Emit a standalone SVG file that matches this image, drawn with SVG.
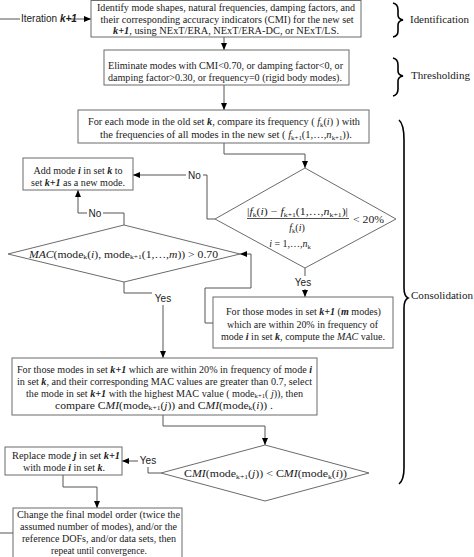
<svg xmlns="http://www.w3.org/2000/svg" width="474" height="557" viewBox="0 0 474 557">
<defs>
<marker id="ah" markerUnits="userSpaceOnUse" markerWidth="8" markerHeight="7" refX="7" refY="3" orient="auto">
<path d="M0,0 L7,3 L0,6 z" fill="#000"/>
</marker>
<style>
.box{fill:#fff;stroke:#6b6b6b;stroke-width:1}
.t{font-family:"Liberation Serif","Times New Roman",serif;font-size:10px;fill:#1a1a1a}
.s{font-family:"Liberation Sans",Arial,sans-serif;font-size:10px;fill:#1a1a1a}
.c{fill:none;stroke:#555;stroke-width:1}
.a{marker-end:url(#ah)}
.br{fill:none;stroke:#000;stroke-width:1.6}
.bi{font-weight:bold;font-style:italic}
.i{font-style:italic}
.sub{font-size:6.5px}
</style>
</defs>
<rect width="474" height="557" fill="#fff"/>

<g id="connectors">
<line class="c" x1="0" y1="19" x2="20" y2="19"/>
<line class="c a" x1="70" y1="19" x2="91" y2="19"/>
<line class="c a" x1="224" y1="37" x2="224" y2="50"/>
<line class="c a" x1="224" y1="85" x2="224" y2="110"/>
<polyline class="c a" points="224,143 224,154 305,154 305,168"/>
<polyline class="c" points="215,219 207,219 207,175 203,175"/>
<line class="c a" x1="186" y1="175" x2="133" y2="175"/>
<polyline class="c" points="124,225 124,213 103,213"/>
<polyline class="c a" points="87,213 78,213 78,190"/>
<line class="c" x1="305" y1="268" x2="305" y2="276"/>
<line class="c a" x1="305" y1="289" x2="305" y2="297"/>
<polyline class="c a" points="213,323 205,323 205,288 251,288 251,254 240,254"/>
<polyline class="c" points="124,282 124,293 152,293"/>
<line class="c a" x1="163" y1="305" x2="163" y2="358"/>
<polyline class="c a" points="163,415 163,426 265,426 265,445"/>
<polyline class="c" points="161,473 148,473 148,467"/>
<line class="c a" x1="138" y1="461" x2="122" y2="461"/>
<polyline class="c a" points="63,475 63,487 97,487 97,508"/>
<line class="c" x1="0" y1="533" x2="13" y2="533"/>
<text class="s" x="21" y="22" font-size="8.5">Iteration <tspan class="bi">k+1</tspan></text>
<text class="s" x="194.5" y="179" text-anchor="middle">No</text>
<text class="s" x="95" y="217" text-anchor="middle">No</text>
<text class="s" x="303" y="286" text-anchor="middle">Yes</text>
<text class="s" x="163" y="302" text-anchor="middle">Yes</text>
<text class="s" x="148" y="464" text-anchor="middle">Yes</text>
</g>

<g id="identify">
<rect class="box" x="91" y="0.5" width="270" height="36.5"/>
<text class="t" x="226" y="10.5" text-anchor="middle" textLength="258" lengthAdjust="spacingAndGlyphs">Identify mode shapes, natural frequencies, damping factors, and</text>
<text class="t" x="227" y="22.5" text-anchor="middle" textLength="253" lengthAdjust="spacingAndGlyphs">their corresponding accuracy indicators (CMI) for the new set</text>
<text class="t" x="226" y="34" text-anchor="middle" textLength="226" lengthAdjust="spacingAndGlyphs"><tspan class="bi">k+1</tspan>, using NExT/ERA, NExT/ERA-DC, or NExT/LS.</text>
</g>

<g id="threshold">
<rect class="box" x="104" y="50" width="245" height="35"/>
<text class="t" x="225.5" y="68.5" text-anchor="middle" textLength="235" lengthAdjust="spacingAndGlyphs">Eliminate modes with CMI&lt;0.70, or damping factor&lt;0, or</text>
<text class="t" x="225" y="81" text-anchor="middle" textLength="234" lengthAdjust="spacingAndGlyphs">damping factor&gt;0.30, or frequency=0 (rigid body modes).</text>
</g>

<g id="compare">
<rect class="box" x="78" y="110" width="291" height="33"/>
<text class="t" x="224" y="125" text-anchor="middle" textLength="272" lengthAdjust="spacingAndGlyphs">For each mode in the old set <tspan class="bi">k</tspan>, compare its frequency ( <tspan class="i">f</tspan><tspan class="sub" dy="1.5">k</tspan><tspan dy="-1.5">(</tspan><tspan class="i">i</tspan>)  ) with</text>
<text class="t" x="226" y="138" text-anchor="middle" textLength="252" lengthAdjust="spacingAndGlyphs">the frequencies of all modes in the new set ( <tspan class="i">f</tspan><tspan class="sub" dy="1.5">k+1</tspan><tspan dy="-1.5">(1,…,</tspan><tspan class="i">n</tspan><tspan class="sub" dy="1.5">k+1</tspan><tspan dy="-1.5">)).</tspan></text>
</g>

<g id="addmode">
<rect class="box" x="23" y="158" width="110" height="32"/>
<text class="t" x="78" y="173.5" text-anchor="middle" textLength="89" lengthAdjust="spacingAndGlyphs">Add mode <tspan class="bi">i</tspan> in set <tspan class="bi">k</tspan> to</text>
<text class="t" x="78" y="186" text-anchor="middle" textLength="94" lengthAdjust="spacingAndGlyphs">set <tspan class="bi">k+1</tspan> as a new mode.</text>
</g>

<g id="freqcheck">
<polygon class="box" points="305,168 396,219 305,268 215,219"/>
<text class="t" x="297.5" y="215" text-anchor="middle" textLength="101" lengthAdjust="spacingAndGlyphs">|<tspan class="i">f</tspan><tspan class="sub" dy="1.5">k</tspan><tspan dy="-1.5">(</tspan><tspan class="i">i</tspan>) − <tspan class="i">f</tspan><tspan class="sub" dy="1.5">k+1</tspan><tspan dy="-1.5">(1,…,</tspan><tspan class="i">n</tspan><tspan class="sub" dy="1.5">k+1</tspan><tspan dy="-1.5">)|</tspan></text>
<line x1="247" y1="218.5" x2="349" y2="218.5" stroke="#222" stroke-width="0.8"/>
<text class="t" x="297" y="231" text-anchor="middle"><tspan class="i">f</tspan><tspan class="sub" dy="1.5">k</tspan><tspan dy="-1.5">(</tspan><tspan class="i">i</tspan>)</text>
<text class="t" x="290" y="247" text-anchor="middle"><tspan class="i">i</tspan> = 1,…,<tspan class="i">n</tspan><tspan class="sub" dy="1.5">k</tspan></text>
<text class="t" x="353" y="223" textLength="31" lengthAdjust="spacingAndGlyphs">&lt; 20%</text>
</g>

<g id="maccheck">
<polygon class="box" points="124,225 240,254 124,282 8,254"/>
<text class="t" x="123.5" y="257.5" text-anchor="middle" textLength="189" lengthAdjust="spacingAndGlyphs"><tspan class="i">MAC</tspan>(mode<tspan class="sub" dy="1.5">k</tspan><tspan dy="-1.5">(</tspan><tspan class="i">i</tspan>), mode<tspan class="sub" dy="1.5">k+1</tspan><tspan dy="-1.5">(1,…,</tspan><tspan class="i">m</tspan>)) &gt; 0.70</text>
</g>

<g id="computemac">
<rect class="box" x="213" y="297" width="180" height="51"/>
<text class="t" x="303.5" y="315" text-anchor="middle" textLength="155" lengthAdjust="spacingAndGlyphs">For those modes in set <tspan class="bi">k+1</tspan> (<tspan class="bi">m</tspan> modes)</text>
<text class="t" x="302.5" y="327.5" text-anchor="middle" textLength="151" lengthAdjust="spacingAndGlyphs">which are within 20% in frequency of</text>
<text class="t" x="303" y="339.5" text-anchor="middle" textLength="164" lengthAdjust="spacingAndGlyphs">mode <tspan class="bi">i</tspan> in set <tspan class="bi">k</tspan>, compute the <tspan class="i">MAC</tspan> value.</text>
</g>

<g id="select">
<rect class="box" x="12" y="358" width="305" height="57"/>
<text class="t" x="164.5" y="372.5" text-anchor="middle" textLength="295" lengthAdjust="spacingAndGlyphs">For those modes in set <tspan class="bi">k+1</tspan> which are within 20% in frequency of mode <tspan class="bi">i</tspan></text>
<text class="t" x="164.5" y="384.5" text-anchor="middle" textLength="295" lengthAdjust="spacingAndGlyphs">in set <tspan class="bi">k</tspan>, and their corresponding MAC values are greater than 0.7, select</text>
<text class="t" x="164.5" y="396.5" text-anchor="middle" textLength="277" lengthAdjust="spacingAndGlyphs">the  mode in set <tspan class="bi">k+1</tspan> with the highest MAC value ( mode<tspan class="sub" dy="1.5">k+1</tspan><tspan dy="-1.5">(</tspan> <tspan class="i">j</tspan>)), then</text>
<text class="t" x="164" y="408.5" text-anchor="middle" textLength="218" lengthAdjust="spacingAndGlyphs">compare C<tspan class="i">MI</tspan>(mode<tspan class="sub" dy="1.5">k+1</tspan><tspan dy="-1.5">(</tspan><tspan class="i">j</tspan>))  and C<tspan class="i">MI</tspan>(mode<tspan class="sub" dy="1.5">k</tspan><tspan dy="-1.5">(</tspan><tspan class="i">i</tspan>)) .</text>
</g>

<g id="cmicheck">
<polygon class="box" points="265,445 369,473 265,501 161,473"/>
<text class="t" x="265.5" y="477" text-anchor="middle" textLength="163" lengthAdjust="spacingAndGlyphs">C<tspan class="i">MI</tspan>(mode<tspan class="sub" dy="1.5">k+1</tspan><tspan dy="-1.5">(</tspan><tspan class="i">j</tspan>)) &lt; C<tspan class="i">MI</tspan>(mode<tspan class="sub" dy="1.5">k</tspan><tspan dy="-1.5">(</tspan><tspan class="i">i</tspan>))</text>
</g>

<g id="replace">
<rect class="box" x="5" y="447" width="117" height="28"/>
<text class="t" x="66" y="459" text-anchor="middle" textLength="108" lengthAdjust="spacingAndGlyphs">Replace mode <tspan class="bi">j</tspan> in set <tspan class="bi">k+1</tspan></text>
<text class="t" x="64" y="471" text-anchor="middle" textLength="82" lengthAdjust="spacingAndGlyphs">with mode <tspan class="bi">i</tspan> in set <tspan class="bi">k</tspan>.</text>
</g>

<g id="change">
<rect class="box" x="13" y="508" width="169" height="56"/>
<text class="t" x="98.5" y="518" text-anchor="middle" textLength="163" lengthAdjust="spacingAndGlyphs">Change the final model order (twice the</text>
<text class="t" x="98.5" y="530" text-anchor="middle" textLength="157" lengthAdjust="spacingAndGlyphs">assumed number of modes), and/or the</text>
<text class="t" x="99" y="542" text-anchor="middle" textLength="154" lengthAdjust="spacingAndGlyphs">reference DOFs, and/or data sets, then</text>
<text class="t" x="99" y="554" text-anchor="middle" textLength="96" lengthAdjust="spacingAndGlyphs">repeat until convergence.</text>
</g>

<g id="stages">
<path class="br" d="M393,3 Q398,4 398,10 L398,15 Q398,19 403,20 Q398,21 398,25 L398,31 Q398,36 393,37"/>
<text class="t" x="410" y="23" font-size="11.5" textLength="59" lengthAdjust="spacingAndGlyphs">Identification</text>
<path class="br" d="M393,58 Q398,59 398,65 L398,71 Q398,75 403,76 Q398,77 398,81 L398,89 Q398,95 393,96"/>
<text class="t" x="411" y="79" font-size="11.5" textLength="59" lengthAdjust="spacingAndGlyphs">Thresholding</text>
<path class="br" stroke-width="2" d="M399,120 Q404,124 404,140 L404,288 Q404,296 408,298 Q404,300 404,308 L404,468 Q404,480 399,484"/>
<text class="t" x="411" y="299" font-size="11.5" textLength="62" lengthAdjust="spacingAndGlyphs">Consolidation</text>
</g>
</svg>
